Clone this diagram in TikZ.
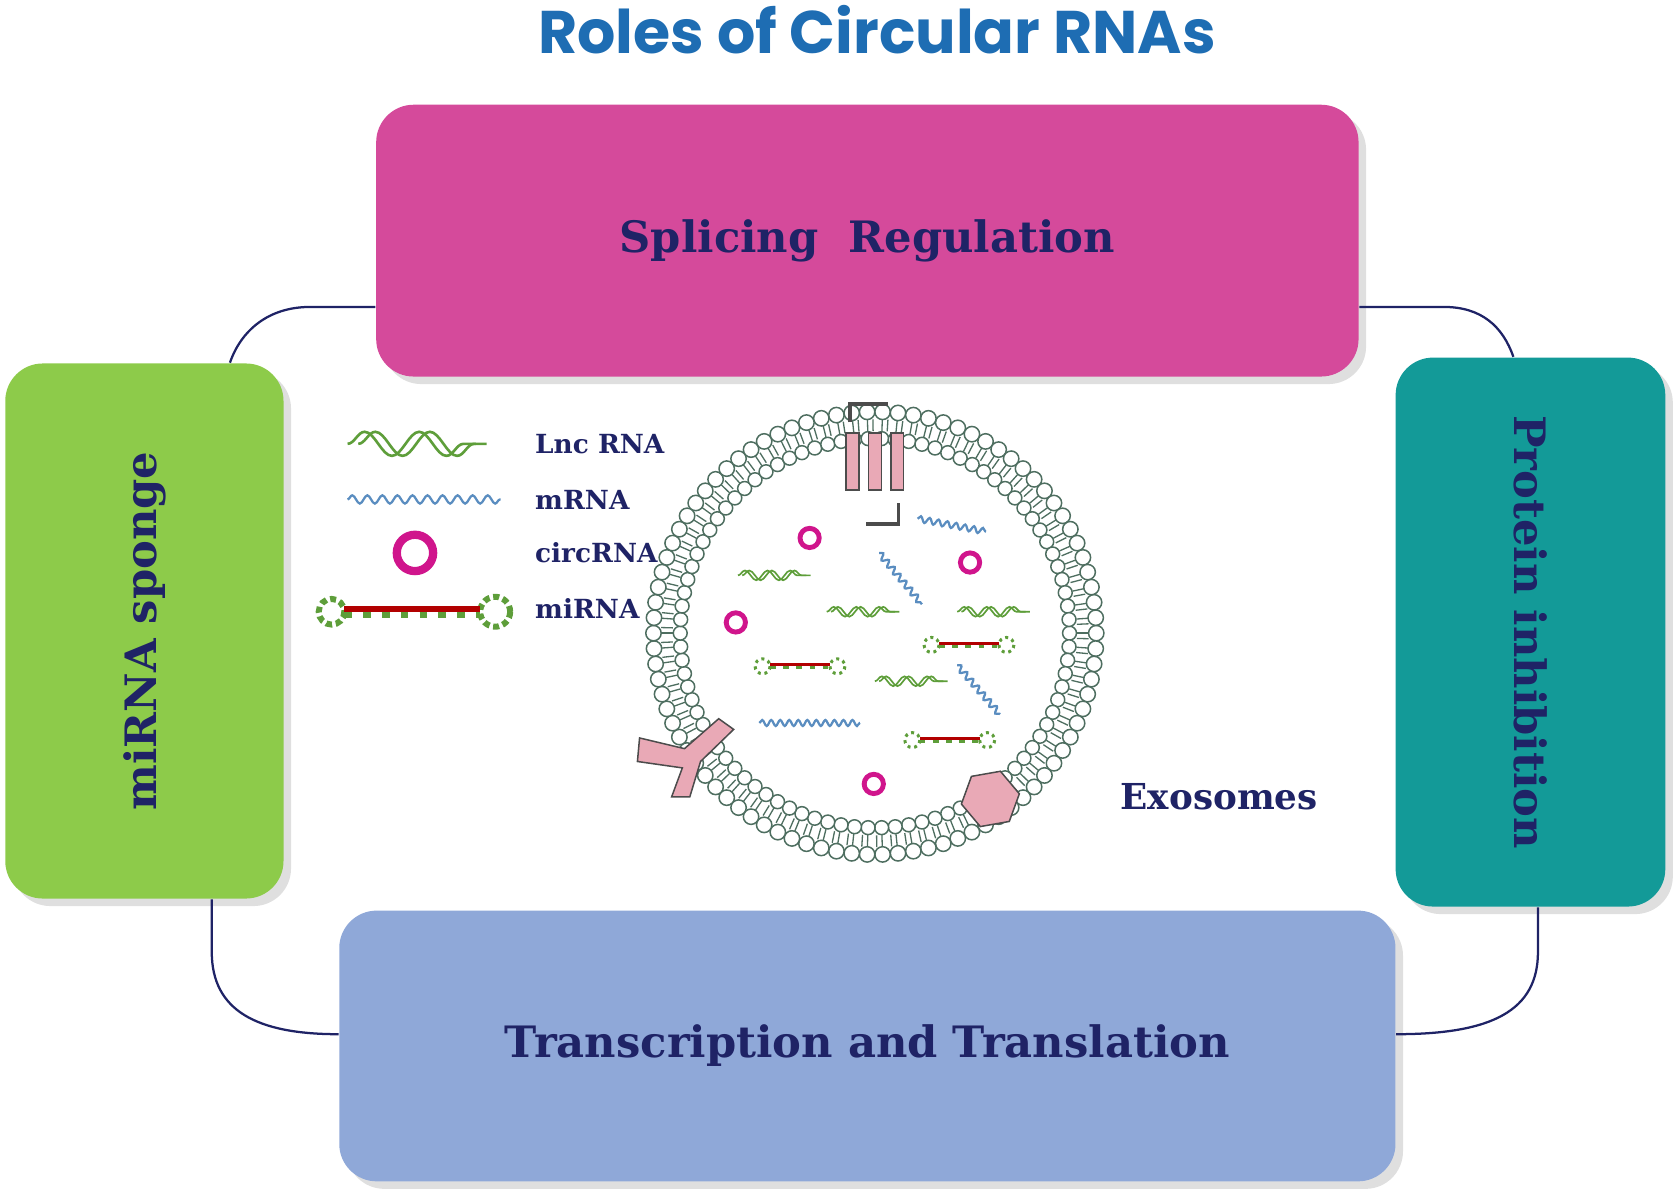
\documentclass[tikz,border=0pt]{standalone}
\usepackage{fontspec}
\setmainfont{DejaVu Serif}
\newfontfamily\titlefont{Poppins}
\usetikzlibrary{calc,shadows,decorations.pathmorphing,shapes.geometric}
\definecolor{navy}{HTML}{1F2366}
\definecolor{tblue}{HTML}{1E6DB3}
\definecolor{mag}{HTML}{D54A9B}
\definecolor{grn}{HTML}{8DCB4A}
\definecolor{teal}{HTML}{139A98}
\definecolor{lblue}{HTML}{8FA8D8}
\definecolor{lnc}{HTML}{5E9E3A}
\definecolor{mrna}{HTML}{5A8DC0}
\definecolor{circ}{HTML}{D0158C}
\definecolor{memb}{HTML}{4E6E60}
\definecolor{prot}{HTML}{E9A9B6}
\begin{document}
\begin{tikzpicture}[x=0.01cm,y=-0.01cm,
  box/.style={draw=none,rounded corners=0.35cm,drop shadow={opacity=0.25,shadow xshift=2pt,shadow yshift=-2pt}},
  btext/.style={font=\bfseries\fontsize{11.5}{14}\selectfont,text=navy},
  leg/.style={font=\bfseries\fontsize{7}{9}\selectfont,text=navy,anchor=west},
  conn/.style={draw=navy,line width=0.6pt},
  head/.style={draw=memb,fill=white,line width=0.4pt},
  lncw/.style={draw=lnc,line width=0.7pt,decorate,decoration={snake,amplitude=3.2pt,segment length=14.5pt}},
  mw/.style={draw=mrna,line width=0.6pt,decorate,decoration={snake,amplitude=0.8pt,segment length=2.4pt}},
  smlnc/.style={draw=lnc,line width=0.45pt,decorate,decoration={snake,amplitude=1.3pt,segment length=6pt}},
  crna/.style={draw=circ,line width=1.6pt},
]
\useasboundingbox (0,0) rectangle (1568,1119);
\node[font=\titlefont\bfseries\fontsize{16}{19}\selectfont,text=tblue] (title) at (820,28) {Roles of Circular RNAs};
% boxes
\node[box,fill=mag,minimum width=9.18cm,minimum height=2.54cm] (sp) at (811,225) {};
\node[box,fill=grn,minimum width=2.6cm,minimum height=5.0cm] (mi) at (135,590) {};
\node[box,fill=teal,minimum width=2.52cm,minimum height=5.13cm] (pr) at (1431,591) {};
\node[box,fill=lblue,minimum width=9.87cm,minimum height=2.53cm] (tr) at (811,978) {};
\node[btext] at (sp) {Splicing\ \ Regulation};
\node[btext,rotate=90] at (mi) {miRNA sponge};
\node[btext,rotate=-90] at (pr) {Protein inhibition};
\node[btext] at (tr) {Transcription and Translation};
% connectors
\coordinate (c1) at (sp.west |- 0,287);
\coordinate (c2) at (sp.east |- 0,287);
\coordinate (c3) at (tr.west |- 0,967);
\coordinate (c4) at (tr.east |- 0,967);
\draw[conn] (c1) -- (290,287) .. controls (250,287) and (225,310) .. (mi.north -| 215,0);
\draw[conn] (c2) -- (1350,287) .. controls (1385,287) and (1405,305) .. (pr.north -| 1415,0);
\draw[conn] (mi.south -| 198,0) -- (198,890) .. controls (198,945) and (240,967) .. (c3);
\draw[conn] (pr.south -| 1438,0) -- (1438,890) .. controls (1438,945) and (1395,967) .. (c4);
% membrane
\coordinate (ex) at (818,592);
\foreach \a in {0,4,...,356}{
  \draw[memb,line width=0.35pt] ($(ex)+(\a:200)$) -- ($(ex)+(\a:189)$);
  \draw[memb,line width=0.35pt] ($(ex)+(\a+1.5:200)$) -- ($(ex)+(\a+1.5:189)$);
  \draw[head] ($(ex)+(\a:207)$) circle (7.2);
  \draw[head] ($(ex)+(\a:182)$) circle (6.5);
}
% proteins
\foreach \x in {797,818,839}{\draw[fill=prot,draw=black!70] (\x-6,405) rectangle (\x+6,458);}
\draw[black!70,line width=1pt] (795,395) -- (795,378) -- (830,378);
\draw[black!70,line width=1pt] (810,490) -- (840,490) -- (840,470);
\draw[fill=prot,draw=black!70] (598,690) -- (640,700) -- (672,672) -- (686,682) -- (655,712) -- (645,745) -- (628,745) -- (638,718) -- (596,712) -- cycle;
\node[regular polygon,regular polygon sides=6,minimum size=0.55cm,fill=prot,draw=black!70,rotate=10] (hex) at (926,747) {};
% contents
\foreach \p in {(757,503),(907,526),(688,582),(817,733)}{\draw[crna,line width=1.3pt] \p circle (9);}
\foreach \x/\y in {690/538,773/572,895/572,818/637}{
 \draw[smlnc] (\x,\y) -- ++(64,0);
 \draw[smlnc] (\x+4,\y) -- ++(64,0);}
\draw[mw] (858,485) -- (922,497);
\draw[mw] (822,517) -- (862,565);
\draw[mw] (895,622) -- (935,668);
\draw[mw] (710,676) -- (804,676);
\newcommand{\hairpin}[3]{%
 \draw[lnc,densely dotted,line width=0.8pt] (#1,#2) circle (#3);
 \draw[lnc,densely dotted,line width=0.8pt] (#1+#3*10,#2) circle (#3);
 \draw[red!70!black,line width=0.9pt] (#1+#3,#2-#3*0.2) -- (#1+#3*9,#2-#3*0.2);
 \draw[lnc,line width=0.9pt,dash pattern=on 1.5pt off 2pt] (#1+#3,#2+#3*0.2) -- (#1+#3*9,#2+#3*0.2);}
\hairpin{713}{623}{7}
\hairpin{871}{603}{7}
\hairpin{853}{692}{7}
% legend
\draw[lncw] (325,415) -- (445,415);
\draw[lncw] (335,415) -- (455,415);
\draw[mw,decoration={snake,amplitude=1.1pt,segment length=4pt}] (325,467) -- (468,467);
\draw[crna,line width=2.2pt] (388,517) circle (17);
\draw[lnc,densely dotted,line width=1.6pt] (310,572) circle (12);
\draw[lnc,densely dotted,line width=1.6pt] (463,572) circle (14);
\draw[red!70!black,line width=1.6pt] (322,569) -- (449,569);
\draw[lnc,line width=1.6pt,dash pattern=on 2pt off 3pt] (322,575) -- (449,575);
\node[leg] (l1) at (488,415) {Lnc RNA};
\node[leg] (l2) at (488,467) {mRNA};
\node[leg] (l3) at (488,517) {circRNA};
\node[leg] (l4) at (488,569) {miRNA};
\node[font=\bfseries\fontsize{9.5}{12}\selectfont,text=navy] (exo) at (1140,745) {Exosomes};
\end{tikzpicture}
\end{document}
